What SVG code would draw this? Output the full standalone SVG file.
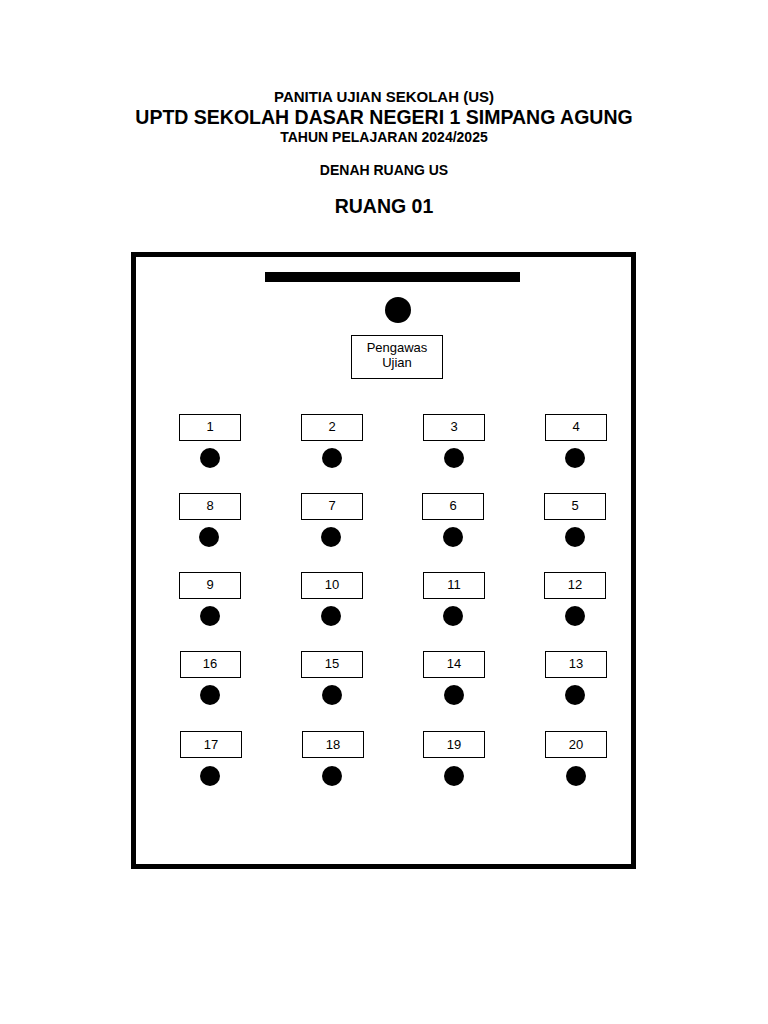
<svg xmlns="http://www.w3.org/2000/svg" width="768" height="1024" viewBox="0 0 768 1024">
<style>
text{font-family:"Liberation Sans",Arial,sans-serif;text-anchor:middle;fill:#000}
.t{font-weight:bold}
.d{fill:#fff;stroke:#000;stroke-width:1}
.n{font-size:13px}
</style>
<rect width="768" height="1024" fill="#fff"/>
<text class="t" x="384" y="102" font-size="15">PANITIA UJIAN SEKOLAH (US)</text>
<text class="t" x="384" y="124" font-size="19.5">UPTD SEKOLAH DASAR NEGERI 1 SIMPANG AGUNG</text>
<text class="t" x="384" y="142" font-size="14">TAHUN PELAJARAN 2024/2025</text>
<text class="t" x="384" y="175" font-size="14">DENAH RUANG US</text>
<text class="t" x="384" y="213" font-size="19.5">RUANG 01</text>
<rect x="133.5" y="254.5" width="500" height="612" fill="none" stroke="#000" stroke-width="5"/>
<rect x="265" y="272" width="255" height="10" fill="#000"/>
<circle cx="398" cy="310" r="13"/>
<g id="pengawas"><rect class="d" x="351.5" y="335.5" width="91" height="43"/>
<text x="397" y="352" font-size="13">Pengawas</text><text x="397" y="367" font-size="13">Ujian</text></g>
<g id="row1">
<rect class="d" x="179.5" y="414.5" width="61" height="26"/><text class="n" x="210" y="431">1</text><circle cx="210" cy="458" r="10"/>
<rect class="d" x="301.5" y="414.5" width="61" height="26"/><text class="n" x="332" y="431">2</text><circle cx="332" cy="458" r="10"/>
<rect class="d" x="423.5" y="414.5" width="61" height="26"/><text class="n" x="454" y="431">3</text><circle cx="454" cy="458" r="10"/>
<rect class="d" x="545.5" y="414.5" width="61" height="26"/><text class="n" x="576" y="431">4</text><circle cx="575" cy="458" r="10"/>
</g>
<g id="row2">
<rect class="d" x="179.5" y="493.5" width="61" height="26"/><text class="n" x="210" y="510">8</text><circle cx="209" cy="537" r="10"/>
<rect class="d" x="301.5" y="493.5" width="61" height="26"/><text class="n" x="332" y="510">7</text><circle cx="331" cy="537" r="10"/>
<rect class="d" x="422.5" y="493.5" width="61" height="26"/><text class="n" x="453" y="510">6</text><circle cx="453" cy="537" r="10"/>
<rect class="d" x="544.5" y="493.5" width="61" height="26"/><text class="n" x="575" y="510">5</text><circle cx="575" cy="537" r="10"/>
</g>
<g id="row3">
<rect class="d" x="179.5" y="572.5" width="61" height="26"/><text class="n" x="210" y="589">9</text><circle cx="210" cy="616" r="10"/>
<rect class="d" x="301.5" y="572.5" width="61" height="26"/><text class="n" x="332" y="589">10</text><circle cx="331" cy="616" r="10"/>
<rect class="d" x="423.5" y="572.5" width="61" height="26"/><text class="n" x="454" y="589">11</text><circle cx="453" cy="616" r="10"/>
<rect class="d" x="544.5" y="572.5" width="61" height="26"/><text class="n" x="575" y="589">12</text><circle cx="575" cy="616" r="10"/>
</g>
<g id="row4">
<rect class="d" x="180.5" y="651.5" width="60" height="26"/><text class="n" x="210" y="668">16</text><circle cx="210" cy="695" r="10"/>
<rect class="d" x="301.5" y="651.5" width="61" height="26"/><text class="n" x="332" y="668">15</text><circle cx="332" cy="695" r="10"/>
<rect class="d" x="423.5" y="651.5" width="61" height="26"/><text class="n" x="454" y="668">14</text><circle cx="454" cy="695" r="10"/>
<rect class="d" x="545.5" y="651.5" width="61" height="26"/><text class="n" x="576" y="668">13</text><circle cx="575" cy="695" r="10"/>
</g>
<g id="row5">
<rect class="d" x="180.5" y="731.5" width="61" height="26"/><text class="n" x="211" y="749">17</text><circle cx="210" cy="776" r="10"/>
<rect class="d" x="302.5" y="731.5" width="61" height="26"/><text class="n" x="333" y="749">18</text><circle cx="332" cy="776" r="10"/>
<rect class="d" x="423.5" y="731.5" width="61" height="26"/><text class="n" x="454" y="749">19</text><circle cx="454" cy="776" r="10"/>
<rect class="d" x="545.5" y="731.5" width="61" height="26"/><text class="n" x="576" y="749">20</text><circle cx="576" cy="776" r="10"/>
</g>
</svg>
